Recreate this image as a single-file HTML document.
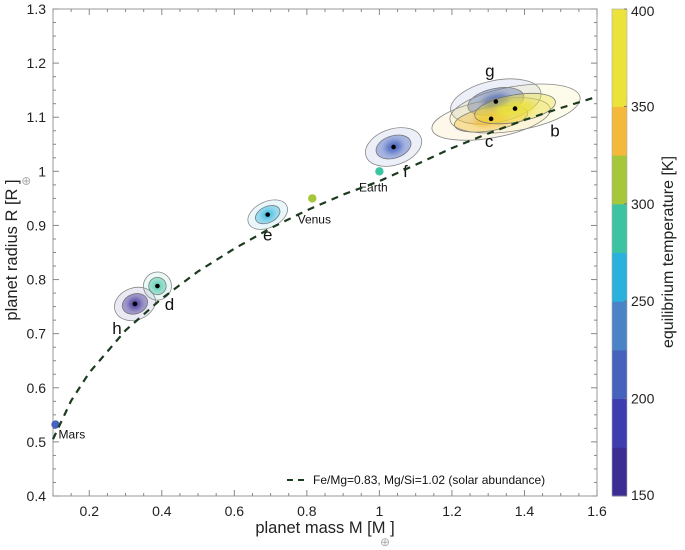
<!DOCTYPE html>
<html><head><meta charset="utf-8"><style>
html,body{margin:0;padding:0;background:#fff;}
svg{display:block;font-family:"Liberation Sans",sans-serif;}
</style></head><body>
<svg id="chart" width="685" height="550">
<defs>
<filter id="blur" x="-50%" y="-50%" width="200%" height="200%"><feGaussianBlur stdDeviation="3"/></filter>
</defs>
<g id="contours"></g>
<g id="axes"></g>
<g id="marks"></g>
<g id="cbar"></g>
</svg>
<script>
const xTicks=[0.2,0.4,0.6,0.8,1,1.2,1.4,1.6];
const yTicks=[0.4,0.5,0.6,0.7,0.8,0.9,1,1.1,1.2,1.3];
const planetNames=["h","d","e","f","g","c","b"];
const planetMass=[0.326,0.388,0.692,1.039,1.321,1.308,1.374];
const planetRadius=[0.755,0.788,0.920,1.045,1.129,1.097,1.116];
const planetTemp=[170,290,262,222,200,340,390];
const solarNames=["Mars","Venus","Earth"];
const solarMass=[0.107,0.815,1.0];
const solarRadius=[0.532,0.950,1.0];
const solarTemp=[215,318,282];
const curveMass=[0.1,0.15,0.2,0.3,0.4,0.5,0.6,0.7,0.8,0.9,1.0,1.1,1.2,1.3,1.4,1.5,1.6];
const curveRadius=[0.505,0.576,0.628,0.706,0.765,0.815,0.857,0.895,0.928,0.957,0.982,1.012,1.043,1.070,1.095,1.117,1.138];
const cbTicks=[150,200,250,300,350,400];
const cbColors=["#3b2d94","#3e3db0","#4562bd","#4b84c6","#2ab1dc","#3cc4a2","#a6c73a","#f4b93b","#ece33a","#ebe23c"];

const NS="http://www.w3.org/2000/svg";
const X0=53,X1=597,Y0=496,Y1=9;
const xs=m=>X0+(m-0.1)/(1.5)*(X1-X0);
const ys=r=>Y0-(r-0.4)/0.9*(Y0-Y1);
const CB0=496,CB1=9;
const cs=t=>CB0-(t-150)/250*(CB0-CB1);
function tcol(t){let i=Math.floor((t-150)/25);i=Math.max(0,Math.min(9,i));return cbColors[i];}
function el(tag,attrs,parent){const e=document.createElementNS(NS,tag);for(const k in attrs)e.setAttribute(k,attrs[k]);parent.appendChild(e);return e;}

const axes=document.getElementById('axes');
let box=el('rect',{x:X0,y:Y1,width:X1-X0,height:Y0-Y1,fill:'none',stroke:'#999','stroke-width':1},axes);

for(let m=0.1;m<=1.601;m+=0.05){const x=xs(m);const major=Math.abs(m*10-Math.round(m*10))<0.01&&Math.round(m*10)%2==0;const L=major?6:3;
el('line',{x1:x,x2:x,y1:Y0,y2:Y0-L,stroke:'#888'},axes);el('line',{x1:x,x2:x,y1:Y1,y2:Y1+L,stroke:'#888'},axes);}
for(let r=0.4;r<=1.301;r+=0.025){const y=ys(r);const major=Math.abs(r*10-Math.round(r*10))<0.01;const L=major?6:3;
el('line',{x1:X0,x2:X0+L,y1:y,y2:y,stroke:'#888'},axes);el('line',{x1:X1,x2:X1-L,y1:y,y2:y,stroke:'#888'},axes);}
xTicks.forEach(v=>{const t=el('text',{x:xs(v),y:Y0+20,'text-anchor':'middle','font-size':14,fill:'#222'},axes);t.textContent=String(v);
});
yTicks.forEach(v=>{const t=el('text',{x:X0-7,y:ys(v)+5,'text-anchor':'end','font-size':14,fill:'#222'},axes);t.textContent=String(v);
});
let xt=el('text',{x:325,y:533,'text-anchor':'middle','font-size':16.5,fill:'#222'},axes);xt.textContent='planet mass M [M    ]';

el('text',{x:380,y:546,'font-size':12,fill:'#aaa'},axes).textContent='⊕';
let yt=el('text',{x:0,y:0,'text-anchor':'middle','font-size':16.5,fill:'#222',transform:'translate(17,250) rotate(-90)'},axes);yt.textContent='planet radius R [R    ]';

el('text',{x:0,y:0,'font-size':12,fill:'#aaa',transform:'translate(30,186) rotate(-90)'},axes).textContent='⊕';

// contours
const cg=document.getElementById('contours');
const sizes=[[21,16,-20],[14,14,-55],[21,13,-25],[29,18,-18],[46,21,-12],[60,19,-10],[66,22,-10]];
planetNames.forEach((n,i)=>{const cx=xs(planetMass[i]),cy=ys(planetRadius[i]);const [a,b,rot]=sizes[i];const c=tcol(planetTemp[i]);
const g=el('g',{transform:`translate(${cx},${cy}) rotate(${rot})`},cg);

el('ellipse',{cx:0,cy:0,rx:a,ry:b,fill:c,'fill-opacity':0.1,stroke:'#888','stroke-width':0.8},g);
el('ellipse',{cx:0,cy:0,rx:a*0.62,ry:b*0.62,fill:c,'fill-opacity':0.4,stroke:'#777','stroke-width':0.8},g);
el('ellipse',{cx:0,cy:0,rx:a*0.3,ry:b*0.35,fill:c,'fill-opacity':0.85,filter:'url(#blur)'},g);
});
// curve
let d=curveMass.map((m,i)=>(i?'L':'M')+xs(m).toFixed(1)+','+ys(curveRadius[i]).toFixed(1)).join(' ');
let cp=el('path',{d:d,fill:'none',stroke:'#1b3a1f','stroke-width':2.2,'stroke-dasharray':'7,6'},axes.parentNode);


const mk=document.getElementById('marks');
const lblOff={h:[-18,30],d:[12,24],e:[0,26],f:[12,30],g:[-6,-25],c:[-2,28],b:[40,28]};
planetNames.forEach((n,i)=>{const cx=xs(planetMass[i]),cy=ys(planetRadius[i]);
const p=el('circle',{cx:cx,cy:cy,r:2.3,fill:'#000'},mk);
const t=el('text',{x:cx+lblOff[n][0],y:cy+lblOff[n][1],'text-anchor':'middle','font-size':17,fill:'#111'},mk);t.textContent=n;
});
const sOff=[[3,14,'start'],[2,25,'middle'],[-6,20,'middle']];
solarNames.forEach((n,i)=>{const cx=xs(solarMass[i]),cy=ys(solarRadius[i]);
const p=el('circle',{cx:cx,cy:cy,r:4.2,fill:tcol(solarTemp[i])},mk);
const t=el('text',{x:cx+sOff[i][0],y:cy+sOff[i][1],'text-anchor':sOff[i][2],'font-size':12,fill:'#111'},mk);t.textContent=n;
});

// legend
const lg=el('g',{},mk);
el('line',{x1:287,x2:305,y1:480,y2:480,stroke:'#1b3a1f','stroke-width':2,'stroke-dasharray':'6,5'},lg);
el('text',{x:313,y:484,'font-size':12,fill:'#111'},lg).textContent='Fe/Mg=0.83, Mg/Si=1.02 (solar abundance)';

// colorbar
const cb=document.getElementById('cbar');
cbColors.forEach((c,i)=>{const t0=150+i*25,t1=t0+25;const r=el('rect',{x:612,y:cs(t1),width:15,height:cs(t0)-cs(t1)+0.5,fill:c},cb);
});
el('rect',{x:612,y:CB1,width:15,height:CB0-CB1,fill:'none',stroke:'#aaa','stroke-width':0.6},cb);
cbTicks.forEach(v=>{const y=cs(v);el('line',{x1:624,x2:627,y1:y,y2:y,stroke:'#777'},cb);
const t=el('text',{x:631,y:y+(v==400?7:v==150?4:5),'font-size':14,fill:'#222'},cb);t.textContent=v;
});
const ct=el('text',{x:0,y:0,'text-anchor':'middle','font-size':16,fill:'#222',transform:'translate(673,252) rotate(-90)'},cb);
ct.textContent='equilibrium temperature [K]';
</script>
</body></html>
